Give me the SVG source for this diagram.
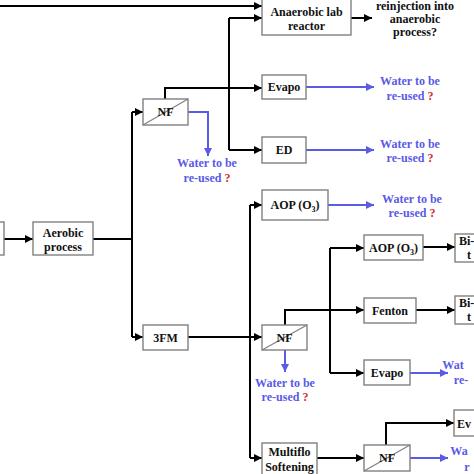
<svg xmlns="http://www.w3.org/2000/svg" width="474" height="474" viewBox="0 0 474 474">
<defs>
<marker id="ab" viewBox="0 0 8 8" refX="8" refY="4" markerWidth="8" markerHeight="8" markerUnits="userSpaceOnUse" orient="auto"><path d="M0,0 L8,4 L0,8 z" fill="#000"/></marker>
<marker id="au" viewBox="0 0 8 8" refX="8" refY="4" markerWidth="8" markerHeight="8" markerUnits="userSpaceOnUse" orient="auto"><path d="M0,0 L8,4 L0,8 z" fill="#5a5ae6"/></marker>
</defs>
<style>
.box{fill:#fff;stroke:#808080;stroke-width:1.4}
.diag{stroke:#808080;stroke-width:1.2}
.t{font-family:"Liberation Serif","Times New Roman",serif;font-weight:bold;font-size:12px;fill:#111;text-anchor:middle}
.s{text-anchor:start}
.w{font-family:"Liberation Serif","Times New Roman",serif;font-weight:bold;font-size:12px;fill:#5a5ae6;text-anchor:middle}
.q{fill:#d03030}
.c{fill:none;stroke:#000;stroke-width:2;marker-end:url(#ab)}
.cn{fill:none;stroke:#000;stroke-width:2}
.b{fill:none;stroke:#5a5ae6;stroke-width:2;marker-end:url(#au)}
</style>
<rect width="474" height="474" fill="#fff"/>
<g id="connectors">
<path class="c" d="M0,6 H262"/>
<path class="cn" d="M229,18 V150"/>
<path class="c" d="M229,18 H262"/>
<path class="c" d="M165,99 V88 H262"/>
<path class="c" d="M229,150 H262"/>
<path class="c" d="M351,18 H372"/>
<path class="c" d="M4,239 H33"/>
<path class="cn" d="M93,239 H132"/>
<path class="cn" d="M132,112 V337"/>
<path class="c" d="M132,112 H143"/>
<path class="c" d="M132,337 H143"/>
<path class="c" d="M188,337 H262"/>
<path class="cn" d="M250,205 V458"/>
<path class="c" d="M250,205 H262"/>
<path class="c" d="M250,458 H262"/>
<path class="c" d="M317,458 H364"/>
<path class="c" d="M285,325 V310 H364"/>
<path class="cn" d="M330,248 V373"/>
<path class="c" d="M330,248 H364"/>
<path class="c" d="M330,373 H364"/>
<path class="c" d="M423,247 H455"/>
<path class="c" d="M416,310 H455"/>
<path class="c" d="M386,445 V423 H454"/>
<path class="b" d="M188,112 H208 V156"/>
<path class="b" d="M306,87 H374"/>
<path class="b" d="M306,150 H374"/>
<path class="b" d="M328,205 H374"/>
<path class="b" d="M285,350 V372"/>
<path class="b" d="M410,373 H448"/>
<path class="b" d="M410,458 H448"/>
</g>
<g id="input"><rect class="box" x="-10" y="222" width="14" height="33"/></g>
<g id="aerobic"><rect class="box" x="33" y="222" width="60" height="33"/><text class="t" x="63" y="237">Aerobic</text><text class="t" x="63" y="251">process</text></g>
<g id="nf1"><rect class="box" x="143" y="99" width="45" height="26"/><line class="diag" x1="143" y1="125" x2="188" y2="99"/><text class="t" x="165.5" y="116">NF</text></g>
<g id="fm3"><rect class="box" x="143" y="325" width="45" height="25"/><text class="t" x="165.5" y="342">3FM</text></g>
<g id="anaerobic"><rect class="box" x="262" y="-1" width="89" height="36"/><text class="t" x="306.5" y="16">Anaerobic lab</text><text class="t" x="306.5" y="30">reactor</text></g>
<g id="reinjection"><text class="t" x="415" y="10">reinjection into</text><text class="t" x="415" y="23">anaerobic</text><text class="t" x="415" y="36">process?</text></g>
<g id="evapo1"><rect class="box" x="262" y="75" width="44" height="24"/><text class="t" x="284" y="91">Evapo</text></g>
<g id="ed"><rect class="box" x="262" y="137" width="44" height="26"/><text class="t" x="284" y="154">ED</text></g>
<g id="aop1"><rect class="box" x="262" y="190" width="66" height="30"/><text class="t" x="295" y="209">AOP (O<tspan font-size="8" dy="3">3</tspan><tspan dy="-3">)</tspan></text></g>
<g id="nf2"><rect class="box" x="262" y="325" width="45" height="25"/><line class="diag" x1="262" y1="350" x2="307" y2="325"/><text class="t" x="284.5" y="342">NF</text></g>
<g id="multiflo"><rect class="box" x="262" y="443" width="55" height="40"/><text class="t" x="289.5" y="456">Multiflo</text><text class="t" x="289.5" y="471">Softening</text></g>
<g id="aop2"><rect class="box" x="364" y="235" width="59" height="25"/><text class="t" x="393.5" y="252">AOP (O<tspan font-size="8" dy="3">3</tspan><tspan dy="-3">)</tspan></text></g>
<g id="fenton"><rect class="box" x="364" y="298" width="52" height="25"/><text class="t" x="390" y="315">Fenton</text></g>
<g id="evapo2"><rect class="box" x="364" y="360" width="46" height="25"/><text class="t" x="387" y="377">Evapo</text></g>
<g id="nf3"><rect class="box" x="364" y="445" width="46" height="26"/><line class="diag" x1="364" y1="471" x2="410" y2="445"/><text class="t" x="387" y="462">NF</text></g>
<g id="bio1"><rect class="box" x="455" y="234" width="30" height="28"/><text class="t s" x="459" y="245">Bi-</text><text class="t s" x="467" y="259">t</text></g>
<g id="bio2"><rect class="box" x="455" y="296" width="30" height="28"/><text class="t s" x="459" y="307">Bi-</text><text class="t s" x="467" y="321">t</text></g>
<g id="ev3"><rect class="box" x="454" y="410" width="30" height="26"/><text class="t s" x="457" y="428">Ev</text></g>
<g id="labels">
<text class="w" x="207" y="167">Water to be</text><text class="w" x="207" y="182">re-used <tspan class="q">?</tspan></text>
<text class="w" x="410" y="85">Water to be</text><text class="w" x="410" y="100">re-used <tspan class="q">?</tspan></text>
<text class="w" x="410" y="148">Water to be</text><text class="w" x="410" y="162">re-used <tspan class="q">?</tspan></text>
<text class="w" x="412" y="203">Water to be</text><text class="w" x="412" y="217">re-used <tspan class="q">?</tspan></text>
<text class="w" x="285" y="387">Water to be</text><text class="w" x="285" y="401">re-used <tspan class="q">?</tspan></text>
<text class="w s" x="453" y="369">Wat</text><text class="w s" x="461" y="384">re-</text>
<text class="w s" x="459" y="455">Wa</text><text class="w s" x="467" y="471">r</text>
</g>
</svg>
